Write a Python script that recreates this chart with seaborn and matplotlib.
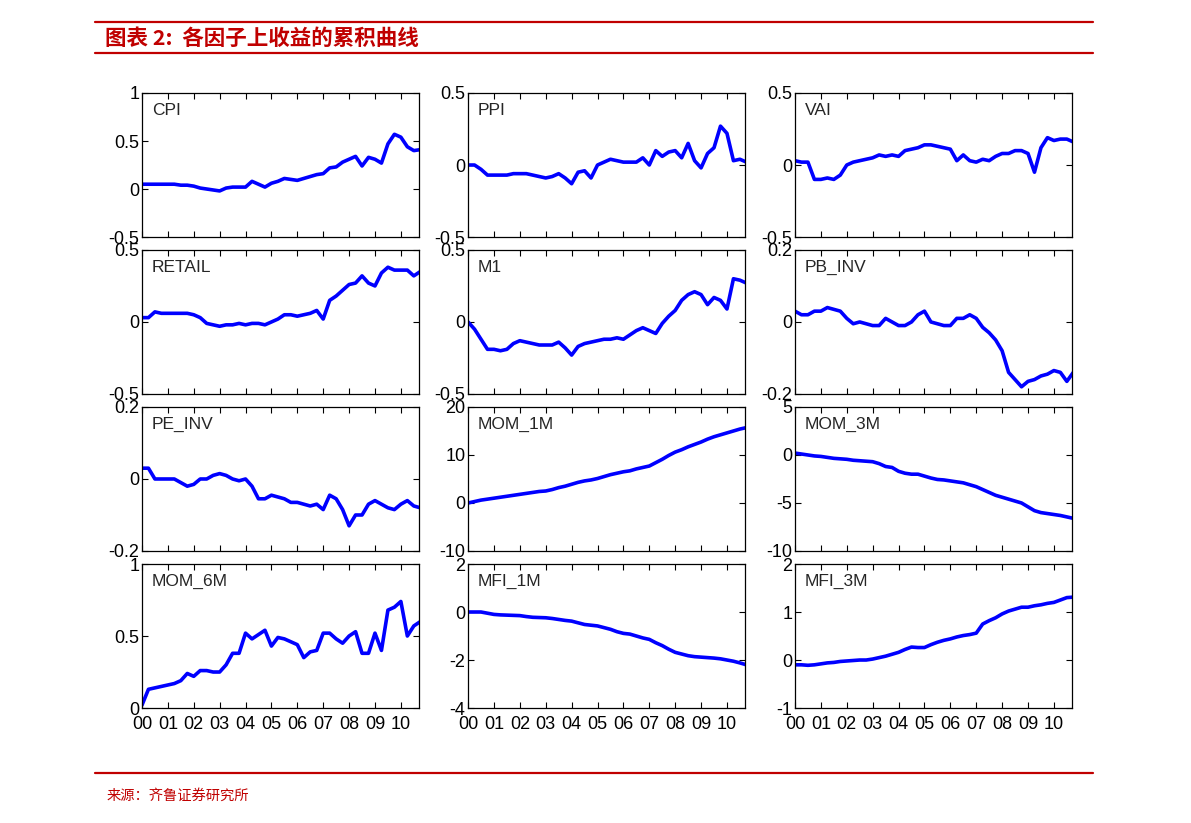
import numpy as np
import pandas as pd
import seaborn as sns
import matplotlib.pyplot as plt
from matplotlib.lines import Line2D

# --- data: cumulative return curves ---
YEARS = 2000 + np.arange(44) * 0.25          # 2000.00 ... 2010.75
YEAR_TICKS = list(range(2000, 2011))
YEAR_LABELS = ['00', '01', '02', '03', '04', '05', '06', '07', '08', '09', '10']

CPI = [0.05, 0.05, 0.05, 0.05, 0.05, 0.05, 0.04, 0.04, 0.03, 0.01, 0.0, -0.01,
       -0.02, 0.01, 0.02, 0.02, 0.02, 0.08, 0.05, 0.02, 0.06, 0.08, 0.11, 0.10,
       0.09, 0.11, 0.13, 0.15, 0.16, 0.22, 0.23, 0.28, 0.31, 0.34, 0.24, 0.33,
       0.31, 0.27, 0.47, 0.57, 0.54, 0.44, 0.40, 0.41]
PPI = [0.0, 0.0, -0.03, -0.07, -0.07, -0.07, -0.07, -0.06, -0.06, -0.06, -0.07, -0.08,
       -0.09, -0.08, -0.06, -0.09, -0.13, -0.05, -0.04, -0.09, 0.0, 0.02, 0.04, 0.03,
       0.02, 0.02, 0.02, 0.05, 0.0, 0.10, 0.06, 0.09, 0.10, 0.05, 0.15, 0.03,
       -0.02, 0.08, 0.12, 0.27, 0.22, 0.03, 0.04, 0.02]
VAI = [0.03, 0.02, 0.02, -0.10, -0.10, -0.09, -0.10, -0.07, 0.0, 0.02, 0.03, 0.04,
       0.05, 0.07, 0.06, 0.07, 0.06, 0.10, 0.11, 0.12, 0.14, 0.14, 0.13, 0.12,
       0.11, 0.03, 0.07, 0.03, 0.02, 0.04, 0.03, 0.06, 0.08, 0.08, 0.10, 0.10,
       0.08, -0.05, 0.12, 0.19, 0.17, 0.18, 0.18, 0.16]
RETAIL = [0.03, 0.03, 0.07, 0.06, 0.06, 0.06, 0.06, 0.06, 0.05, 0.03, -0.01, -0.02,
          -0.03, -0.02, -0.02, -0.01, -0.02, -0.01, -0.01, -0.02, 0.0, 0.02, 0.05, 0.05,
          0.04, 0.05, 0.06, 0.08, 0.02, 0.15, 0.18, 0.22, 0.26, 0.27, 0.32, 0.27,
          0.25, 0.34, 0.38, 0.36, 0.36, 0.36, 0.32, 0.35]
M1 = [0.0, -0.05, -0.12, -0.19, -0.19, -0.20, -0.19, -0.15, -0.13, -0.14, -0.15, -0.16,
      -0.16, -0.16, -0.14, -0.18, -0.23, -0.17, -0.15, -0.14, -0.13, -0.12, -0.12, -0.11,
      -0.12, -0.09, -0.06, -0.04, -0.06, -0.08, -0.01, 0.04, 0.08, 0.15, 0.19, 0.21,
      0.19, 0.12, 0.17, 0.15, 0.09, 0.30, 0.29, 0.27]
PB_INV = [0.03, 0.02, 0.02, 0.03, 0.03, 0.04, 0.035, 0.03, 0.01, -0.005, 0.0, -0.005,
          -0.01, -0.01, 0.01, 0.0, -0.01, -0.01, 0.0, 0.02, 0.03, 0.0, -0.005, -0.01,
          -0.01, 0.01, 0.01, 0.02, 0.01, -0.015, -0.03, -0.05, -0.08, -0.14, -0.16, -0.18,
          -0.165, -0.16, -0.15, -0.145, -0.135, -0.14, -0.165, -0.14]
PE_INV = [0.03, 0.03, 0.0, 0.0, 0.0, 0.0, -0.01, -0.02, -0.015, 0.0, 0.0, 0.01,
          0.015, 0.01, 0.0, -0.005, 0.0, -0.02, -0.055, -0.055, -0.045, -0.05, -0.055, -0.065,
          -0.065, -0.07, -0.075, -0.07, -0.085, -0.045, -0.055, -0.085, -0.13, -0.10, -0.10, -0.07,
          -0.06, -0.07, -0.08, -0.085, -0.07, -0.06, -0.075, -0.08]
MOM_1M = [0.0, 0.3, 0.6, 0.8, 1.0, 1.2, 1.4, 1.6, 1.8, 2.0, 2.2, 2.4,
          2.5, 2.8, 3.2, 3.5, 3.9, 4.3, 4.6, 4.8, 5.1, 5.5, 5.9, 6.2,
          6.5, 6.7, 7.1, 7.4, 7.7, 8.4, 9.1, 9.9, 10.6, 11.1, 11.7, 12.2,
          12.7, 13.3, 13.8, 14.2, 14.6, 15.0, 15.4, 15.7]
MOM_3M = [0.2, 0.1, 0.0, -0.1, -0.15, -0.25, -0.35, -0.4, -0.45, -0.55, -0.6, -0.65,
          -0.7, -0.9, -1.2, -1.3, -1.7, -1.9, -2.0, -2.0, -2.2, -2.4, -2.55, -2.6,
          -2.7, -2.8, -2.9, -3.1, -3.3, -3.6, -3.9, -4.2, -4.4, -4.6, -4.8, -5.0,
          -5.4, -5.8, -6.0, -6.1, -6.2, -6.3, -6.45, -6.6]
MOM_6M = [0.02, 0.13, 0.14, 0.15, 0.16, 0.17, 0.19, 0.24, 0.22, 0.26, 0.26, 0.25,
          0.25, 0.30, 0.38, 0.38, 0.52, 0.48, 0.51, 0.54, 0.43, 0.49, 0.48, 0.46,
          0.44, 0.35, 0.39, 0.40, 0.52, 0.52, 0.48, 0.45, 0.50, 0.53, 0.38, 0.38,
          0.52, 0.40, 0.68, 0.70, 0.74, 0.50, 0.57, 0.60]
MFI_1M = [0.0, 0.0, 0.0, -0.05, -0.1, -0.12, -0.13, -0.14, -0.15, -0.19, -0.22, -0.23,
          -0.24, -0.27, -0.31, -0.35, -0.38, -0.45, -0.52, -0.55, -0.58, -0.65, -0.72, -0.82,
          -0.89, -0.92, -1.0, -1.08, -1.14, -1.28, -1.4, -1.55, -1.68, -1.75, -1.82, -1.86,
          -1.88, -1.9, -1.92, -1.95, -2.0, -2.05, -2.12, -2.2]
MFI_3M = [-0.1, -0.1, -0.11, -0.1, -0.08, -0.06, -0.05, -0.03, -0.02, -0.01, 0.0, 0.0,
          0.02, 0.05, 0.08, 0.12, 0.16, 0.22, 0.27, 0.26, 0.26, 0.32, 0.37, 0.41,
          0.44, 0.48, 0.51, 0.53, 0.56, 0.75, 0.82, 0.88, 0.96, 1.02, 1.06, 1.10,
          1.10, 1.13, 1.15, 1.18, 1.20, 1.25, 1.30, 1.31]

PANELS = ['CPI', 'PPI', 'VAI', 'RETAIL', 'M1', 'PB_INV',
          'PE_INV', 'MOM_1M', 'MOM_3M', 'MOM_6M', 'MFI_1M', 'MFI_3M']
SERIES = [CPI, PPI, VAI, RETAIL, M1, PB_INV,
          PE_INV, MOM_1M, MOM_3M, MOM_6M, MFI_1M, MFI_3M]
Y_TICKS = [[-0.5, 0, 0.5, 1], [-0.5, 0, 0.5], [-0.5, 0, 0.5],
           [-0.5, 0, 0.5], [-0.5, 0, 0.5], [-0.2, 0, 0.2],
           [-0.2, 0, 0.2], [-10, 0, 10, 20], [-10, -5, 0, 5],
           [0, 0.5, 1], [-4, -2, 0, 2], [-1, 0, 1, 2]]

RED = '#c00000'

sns.set_style('ticks')
plt.rcParams['font.family'] = ['Liberation Sans', 'Noto Sans CJK SC', 'DejaVu Sans']

fig = plt.figure(figsize=(11.91, 8.23), dpi=100)

lefts = [0.1192, 0.3930, 0.6675]
bottoms = [0.7120, 0.5213, 0.3305, 0.1397]
w, h = 0.2326, 0.175

for i, (name, vals, yt) in enumerate(zip(PANELS, SERIES, Y_TICKS)):
    r, c = divmod(i, 3)
    ax = fig.add_axes([lefts[c], bottoms[r], w, h])
    df = pd.DataFrame({'year': YEARS, 'value': vals})
    sns.lineplot(data=df, x='year', y='value', ax=ax, color='#0000ff', linewidth=2.6)
    ax.set_xlim(2000, 2010.7)
    ax.set_ylim(yt[0], yt[-1])
    ax.set_yticks(yt)
    ax.set_yticklabels([f'{v:g}' for v in yt])
    ax.set_xticks(YEAR_TICKS)
    if r == 3:
        ax.set_xticklabels(YEAR_LABELS)
    else:
        ax.set_xticklabels([])
    ax.set_xlabel('')
    ax.set_ylabel('')
    ax.tick_params(direction='in', top=True, right=True, length=4, width=0.8,
                   labelsize=13, pad=2, colors='black')
    ax.tick_params(axis='x', pad=6)
    for s in ax.spines.values():
        s.set_linewidth(0.9)
        s.set_color('black')
    ax.text(0.035, 0.93, name, transform=ax.transAxes, fontsize=12.5,
            ha='left', va='top')

# header and footer decorations
for y in [1 - 22 / 823, 1 - 53 / 823, 1 - 773 / 823]:
    fig.add_artist(Line2D([95 / 1191, 1093 / 1191], [y, y], color=RED,
                          linewidth=1.6, transform=fig.transFigure))

fig.text(105 / 1191, 1 - 38 / 823, '图表 2:  各因子上收益的累积曲线', color=RED,
         fontsize=15.5, fontweight='bold', ha='left', va='center',
         family=['Noto Sans CJK SC', 'DejaVu Sans'])
fig.text(107 / 1191, 1 - 796 / 823, '来源：齐鲁证券研究所', color=RED,
         fontsize=10.3, ha='left', va='center',
         family=['Noto Sans CJK SC', 'DejaVu Sans'])

plt.savefig('out.png', dpi=100)
